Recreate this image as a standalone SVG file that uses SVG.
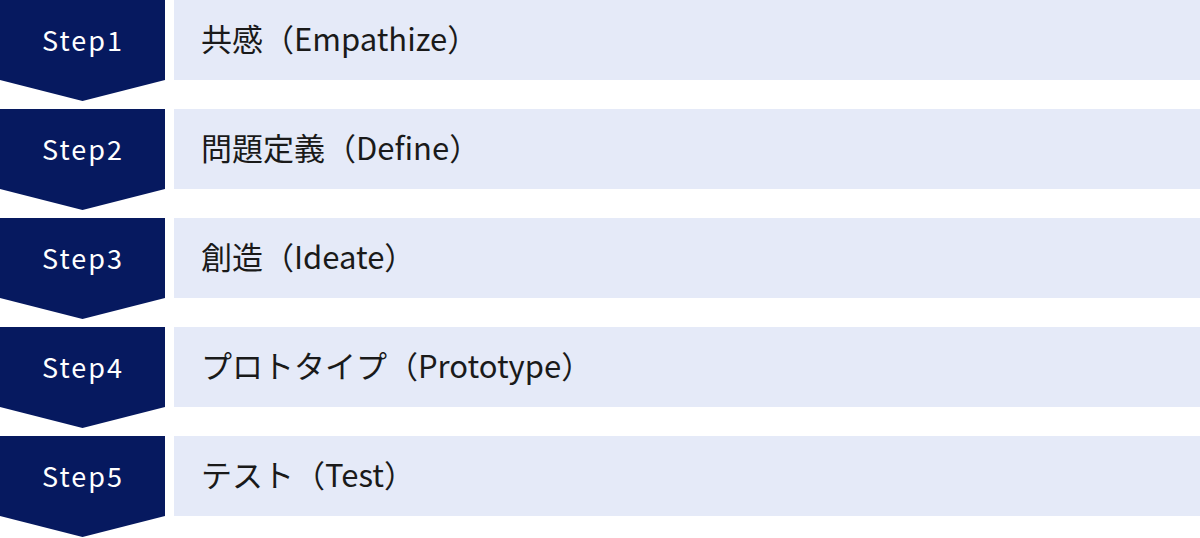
<svg xmlns="http://www.w3.org/2000/svg" width="1200" height="538" viewBox="0 0 1200 538">
<defs>
<style>
.chev{fill:#06195F}
.bar{fill:#E5EAF8}
.step{font-family:"Noto Sans CJK JP","Noto Sans",sans-serif;font-size:27px;fill:#FFFFFF;text-anchor:middle;letter-spacing:2px}
.lbl{font-family:"Noto Sans CJK JP","Noto Sans",sans-serif;font-size:31px;fill:#1A1A1A}
</style>
</defs>
<rect width="1200" height="538" fill="#FFFFFF"/>
<g id="step1">
<polygon class="chev" points="0,0 165,0 165,80 82.5,101 0,80"/>
<rect class="bar" x="174" y="0" width="1026" height="80"/>
<text class="step" x="83" y="51">Step1</text>
<text class="lbl" x="201" y="51">共感（Empathize）</text>
</g>
<g id="step2">
<polygon class="chev" points="0,109 165,109 165,189 82.5,210 0,189"/>
<rect class="bar" x="174" y="109" width="1026" height="80"/>
<text class="step" x="83" y="160">Step2</text>
<text class="lbl" x="201" y="160">問題定義（Define）</text>
</g>
<g id="step3">
<polygon class="chev" points="0,218 165,218 165,298 82.5,319 0,298"/>
<rect class="bar" x="174" y="218" width="1026" height="80"/>
<text class="step" x="83" y="269">Step3</text>
<text class="lbl" x="201" y="269">創造（Ideate）</text>
</g>
<g id="step4">
<polygon class="chev" points="0,327 165,327 165,407 82.5,428 0,407"/>
<rect class="bar" x="174" y="327" width="1026" height="80"/>
<text class="step" x="83" y="378">Step4</text>
<text class="lbl" x="201" y="378">プロトタイプ（Prototype）</text>
</g>
<g id="step5">
<polygon class="chev" points="0,436 165,436 165,516 82.5,537 0,516"/>
<rect class="bar" x="174" y="436" width="1026" height="80"/>
<text class="step" x="83" y="487">Step5</text>
<text class="lbl" x="201" y="487">テスト（Test）</text>
</g>
<g id="connectors"></g>
</svg>
